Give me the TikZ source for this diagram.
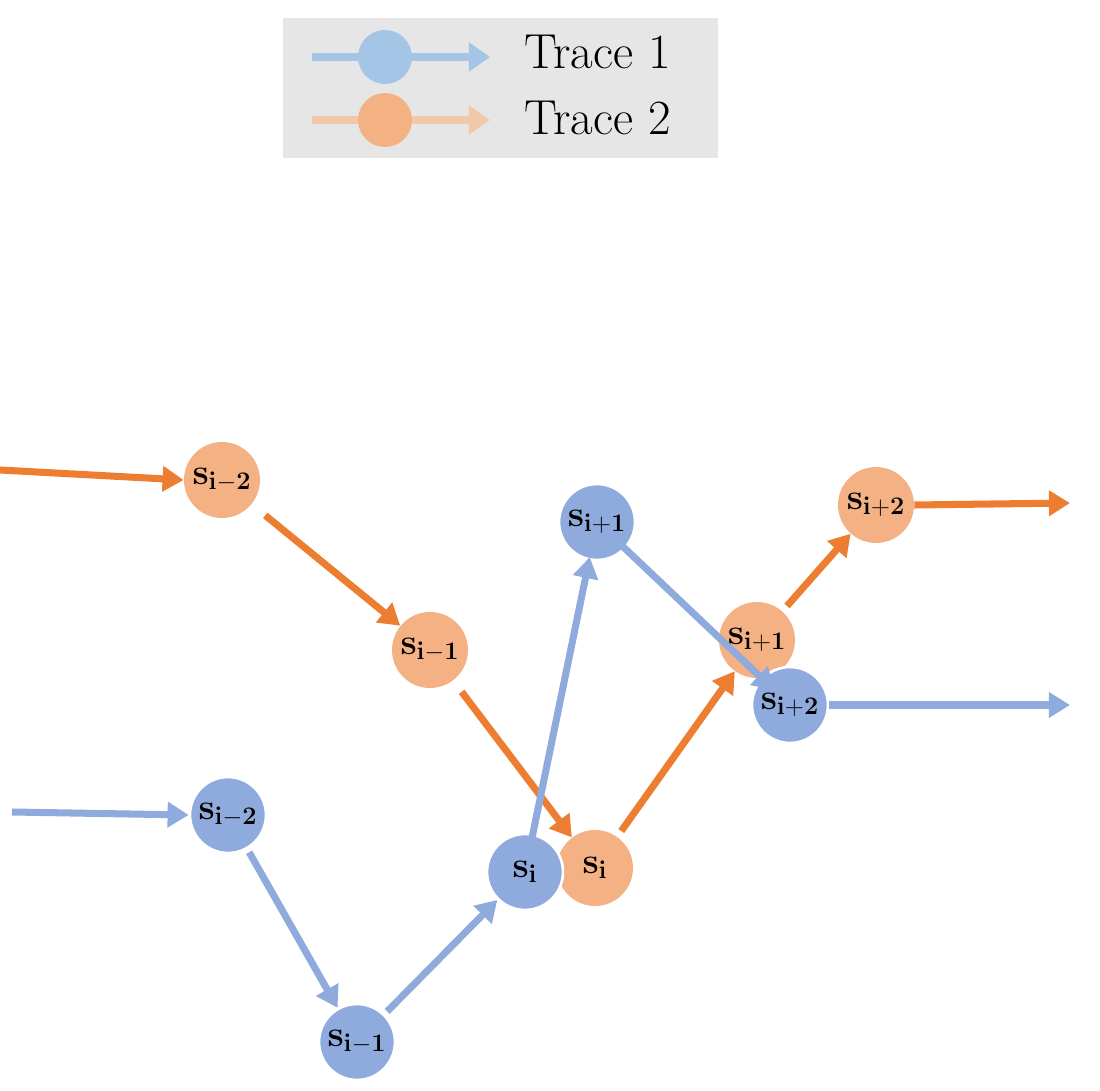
\documentclass[tikz,border=0pt]{standalone}
\usetikzlibrary{arrows.meta}
\definecolor{orf}{HTML}{F4B183}
\definecolor{ora}{HTML}{ED7D31}
\definecolor{blf}{HTML}{8FAADC}
\definecolor{lbl}{HTML}{A4C5E6}
\definecolor{lor}{HTML}{F1C8AA}
\definecolor{lorc}{HTML}{F4B183}
\definecolor{lgr}{HTML}{E6E6E6}
\begin{document}
\begin{tikzpicture}[x=0.02cm,y=-0.02cm,
  st/.style={circle,minimum size=1.52cm,inner sep=0pt,font=\fontsize{22}{24}\selectfont},
  on/.style={st,fill=orf},
  bn/.style={st,fill=blf,draw=white,line width=1.5pt},
  oa/.style={draw=ora,line width=4pt,-{Triangle[length=12pt,width=14pt]}},
  ba/.style={draw=blf,line width=4pt,-{Triangle[length=12pt,width=14pt]}},
  lg/.style={line width=5pt,-{Triangle[length=12pt,width=16pt]}},
  lt/.style={font=\fontsize{28}{30}\selectfont,anchor=west}]
\useasboundingbox (0,0) rectangle (1100,1091);
% legend
\fill[lgr] (283,18) rectangle (718,158);
\coordinate (l1a) at (312,57); \coordinate (l1b) at (490,57);
\coordinate (l2a) at (312,120); \coordinate (l2b) at (490,120);
\draw[lg,draw=lbl,fill=lbl] (l1a) -- (l1b);
\draw[lg,draw=lor,fill=lor] (l2a) -- (l2b);
\node[circle,fill=lbl,minimum size=1.08cm] (lc1) at (385,57) {};
\node[circle,fill=lorc,minimum size=1.08cm] (lc2) at (385,120) {};
\node[lt] (t1) at (518,52) {Trace 1};
\node[lt] (t2) at (518,118) {Trace 2};
% orange nodes
\node[on] (o2) at (222,480) {$\mathbf{s}_{\mathbf{i-2}}$};
\node[on] (o1) at (430,650) {$\mathbf{s}_{\mathbf{i-1}}$};
\node[on] (o0) at (595,868) {$\mathbf{s}_{\mathbf{i}}$};
\node[on] (op1) at (757,640) {$\mathbf{s}_{\mathbf{i+1}}$};
\node[on] (op2) at (876,505) {$\mathbf{s}_{\mathbf{i+2}}$};
% blue nodes
\node[bn] (b2) at (228,815) {$\mathbf{s}_{\mathbf{i-2}}$};
\node[bn] (b1) at (357,1042) {$\mathbf{s}_{\mathbf{i-1}}$};
\node[bn] (b0) at (525,872) {$\mathbf{s}_{\mathbf{i}}$};
\node[bn] (bp1) at (597,522) {$\mathbf{s}_{\mathbf{i+1}}$};
\node[bn] (bp2) at (790,705) {$\mathbf{s}_{\mathbf{i+2}}$};
% free ends
\coordinate (os) at (0,470); \coordinate (oe) at (1070,503);
\coordinate (bs) at (12,812); \coordinate (be) at (1070,705);
% orange arrows
\draw[oa] (os) -- (o2.west);
\draw[oa,shorten <=10pt] (o2) -- (o1);
\draw[oa,shorten <=8pt] (o1) -- (o0);
\draw[oa,shorten <=4pt] (o0) -- (op1);
\draw[oa,shorten <=4pt] (op1) -- (op2);
\draw[oa] (op2.east) -- (oe);
% blue arrows
\draw[ba] (bs) -- (b2.west);
\draw[ba,shorten <=2pt] (b2) -- (b1);
\draw[ba,shorten <=2pt] (b1) -- (b0);
\draw[ba,shorten <=-2pt,shorten >=-2pt] (b0) -- (bp1);
\draw[ba,shorten <=-4pt,shorten >=-10pt] (bp1) -- (bp2);
\draw[ba] (bp2.east) -- (be);
\end{tikzpicture}
\end{document}
